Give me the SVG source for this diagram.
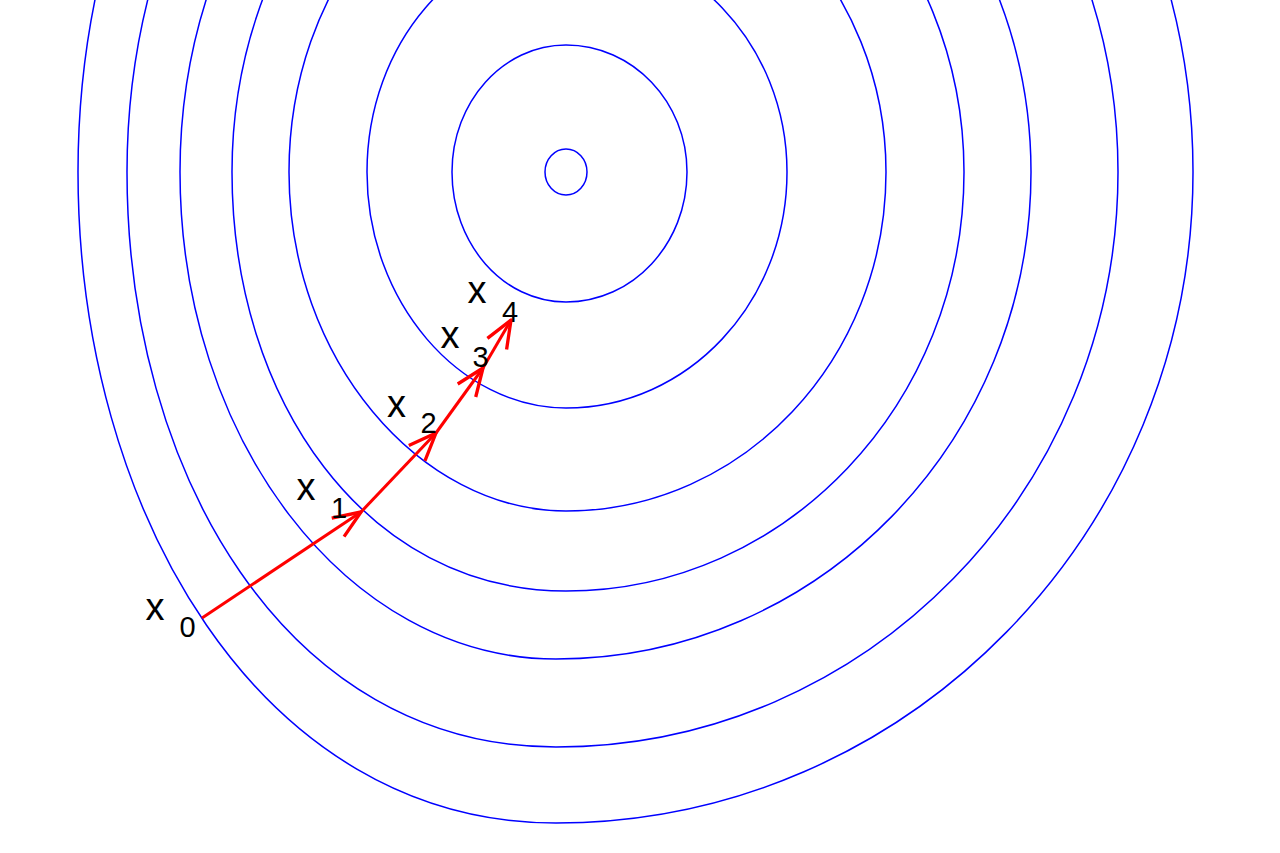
<svg xmlns="http://www.w3.org/2000/svg" width="1280" height="853" viewBox="0 0 1280 853">
<style>
.contour{fill:none;stroke:#0000ff;stroke-width:1.5}
.step{fill:none;stroke:#ff0000;stroke-width:3}
.x{font-family:"Liberation Sans",Arial,sans-serif;font-size:38px;fill:#000;text-anchor:middle}
.sub{font-family:"Liberation Sans",Arial,sans-serif;font-size:29px;fill:#000;text-anchor:middle}
</style>
<defs>
<marker id="head" markerUnits="userSpaceOnUse" orient="auto" markerWidth="40" markerHeight="40" viewBox="-32 -16 36 32" refX="0" refY="0" overflow="visible">
<path d="M-25,-10 L0,0 L-25,10" fill="none" stroke="#ff0000" stroke-width="3" stroke-linejoin="round"/>
</marker>
</defs>
<rect width="1280" height="853" fill="#ffffff"/>
<g id="contours">
<ellipse class="contour" cx="566" cy="172" rx="21" ry="23"/>
<path class="contour" d="M452,172 C452,243.8 503,302 566,302 C632.8,302 687,243.8 687,172 C687,101.9 632.8,45 566,45 C503,45 452,101.9 452,172 Z"/>
<path class="contour" d="M367,172 C367,302.3 460,408 566,408 C688.1,408 787,302.3 787,172 C787,43.9 688.1,-60 566,-60 C456.1,-60 367,43.9 367,172 Z"/>
<path class="contour" d="M289,172 C289,359.2 420,511 566,511 C742.7,511 886,359.2 886,172 C886,-13 742.7,-163 566,-163 C413,-163 289,-13 289,172 Z"/>
<path class="contour" d="M232,172 C232,400 366,591 566,591 C785.8,591 964,403.4 964,172 C964,-55.5 785.8,-240 566,-240 C381.5,-240 232,-55.5 232,172 Z"/>
<path class="contour" d="M180,172 C180,437 346,659 556,659 C818.3,659 1031,441 1031,172 C1031,-90.3 822.8,-303 566,-303 C352.8,-303 180,-90.3 180,172 Z"/>
<path class="contour" d="M127,172 C127,472 286,747 556,747 C866.4,747 1118,489.6 1118,172 C1118,-140 870.9,-393 566,-393 C323.5,-393 127,-140 127,172 Z"/>
<path class="contour" d="M78,172 C78,512 261,823 556,823 C907.8,823 1193,531 1193,172 C1193,-189.8 912.3,-483 566,-483 C296.5,-483 78,-189.8 78,172 Z"/>
</g>
<g id="connectors">
<line class="step" x1="202" y1="618" x2="361" y2="512" marker-end="url(#head)"/>
<line class="step" x1="361" y1="512" x2="436" y2="433" marker-end="url(#head)"/>
<line class="step" x1="436" y1="433" x2="483" y2="368" marker-end="url(#head)"/>
<line class="step" x1="483" y1="368" x2="511" y2="320" marker-end="url(#head)"/>
</g>
<g id="x0"><text class="x" x="155" y="620">x</text><text class="sub" x="187.5" y="637">0</text></g>
<g id="x1"><text class="x" x="306" y="500">x</text><text class="sub" x="339" y="518">1</text></g>
<g id="x2"><text class="x" x="396.5" y="417">x</text><text class="sub" x="428.5" y="433">2</text></g>
<g id="x3"><text class="x" x="450" y="348">x</text><text class="sub" x="480.5" y="367">3</text></g>
<g id="x4"><text class="x" x="477" y="303">x</text><text class="sub" x="510" y="322">4</text></g>
</svg>
